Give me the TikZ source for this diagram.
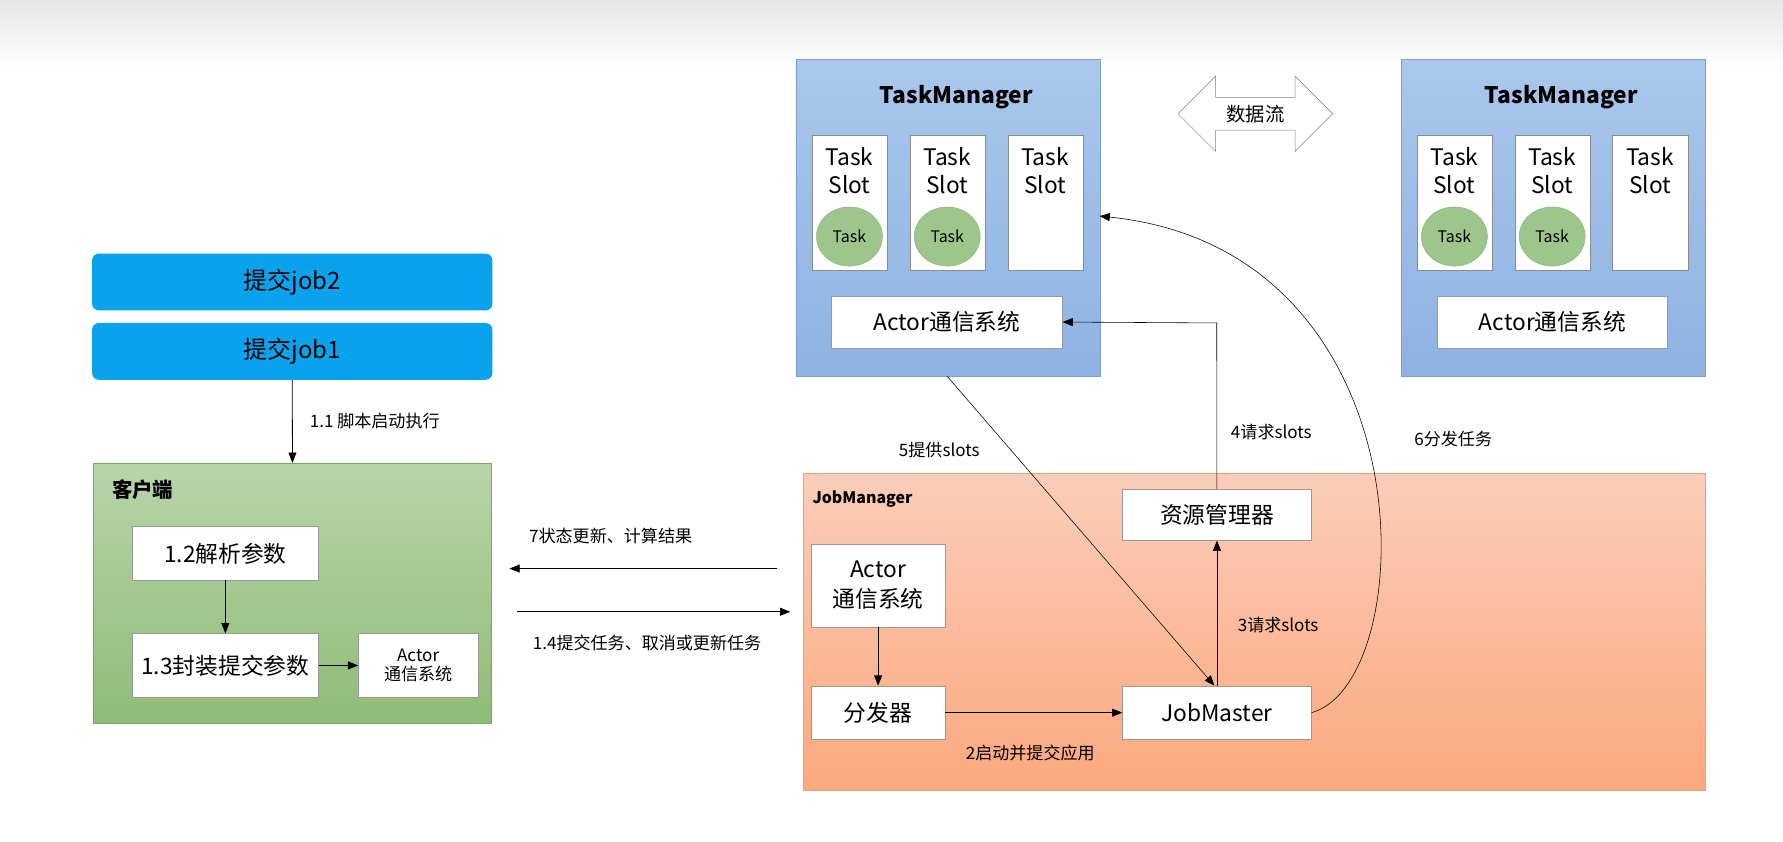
\documentclass[tikz,border=0pt]{standalone}
\usepackage{fontspec}
\setmainfont{Noto Sans CJK SC}
\usetikzlibrary{arrows.meta,shapes.arrows,shapes.geometric}
\definecolor{jobblue}{RGB}{10,162,236}
\tikzset{
  box/.style={draw=black!40,fill=white,inner sep=0pt,align=center,font=\fontsize{20}{24}\selectfont},
  lbl/.style={font=\fontsize{15}{18}\selectfont,inner sep=1pt},
  arr/.style={-{Triangle[length=9pt,width=7pt]},line width=0.7pt},
  slot/.style={draw=black!45,fill=white,minimum width=66pt,minimum height=118pt,anchor=north west,inner sep=0pt},
  task/.style={ellipse,draw=green!40!black!50,fill={rgb,255:red,158;green,198;blue,138},minimum width=58pt,minimum height=52pt,font=\fontsize{14}{16}\selectfont,inner sep=0pt},
}
\begin{document}
\begin{tikzpicture}[x=1pt,y=-1pt]
\useasboundingbox (0,0) rectangle (1568,740);
\fill[white] (0,0) rectangle (1568,740);
\shade[top color=black!10,bottom color=white] (0,0) rectangle (1568,60);
% job boxes
\node[fill=jobblue,rounded corners=6pt,minimum width=352pt,minimum height=50pt,inner sep=0pt,font=\fontsize{21}{24}\selectfont] (j2) at (257,248) {提交job2};
\node[fill=jobblue,rounded corners=6pt,minimum width=352pt,minimum height=50pt,inner sep=0pt,font=\fontsize{21}{24}\selectfont] (j1) at (257,309) {提交job1};
% client
\node[draw={rgb,255:red,120;green,170;blue,100},top color={rgb,255:red,184;green,212;blue,170},bottom color={rgb,255:red,143;green,188;blue,118},minimum width=350pt,minimum height=229pt,inner sep=0pt,anchor=north west] (cl) at (82,407) {};
\node[font=\bfseries\fontsize{18}{20}\selectfont,anchor=west] (clt) at (95,431) {客户端};
\node[box,minimum width=164pt,minimum height=47pt,anchor=north west] (p12) at (116,463) {1.2解析参数};
\node[box,minimum width=164pt,minimum height=56pt,anchor=north west] (p13) at (116,557) {1.3封装提交参数};
\node[box,minimum width=105pt,minimum height=56pt,anchor=north west,font=\fontsize{15}{17}\selectfont] (ca) at (315,557) {Actor\\通信系统};
\draw[arr] (j1.south) -- (cl.north) node[lbl,midway,right=14pt] {1.1 脚本启动执行};
\draw[arr] (p12) -- (p13);
\draw[arr] (p13) -- (ca);
% arrows between client and JM
\coordinate (a7s) at (683,500); \coordinate (a7e) at (448,500);
\draw[arr] (a7s) -- (a7e);
\node[lbl] (l7) at (537,471) {7状态更新、计算结果};
\coordinate (a14s) at (455,538); \coordinate (a14e) at (695,538);
\draw[arr] (a14s) -- (a14e);
\node[lbl] (l14) at (569,565) {1.4提交任务、取消或更新任务};
% JobManager
\node[draw={rgb,255:red,240;green,160;blue,120},top color={rgb,255:red,251;green,205;blue,185},bottom color={rgb,255:red,251;green,168;blue,125},minimum width=793pt,minimum height=279pt,inner sep=0pt,anchor=north west] (jm) at (706,416) {};
\node[font=\bfseries\fontsize{14}{16}\selectfont,anchor=west] (jmt) at (711,439) {JobManager};
\node[box,minimum width=118pt,minimum height=73pt,anchor=north west,font=\fontsize{20}{26}\selectfont] (ja) at (713,478) {Actor\\通信系统};
\node[box,minimum width=118pt,minimum height=47pt,anchor=north west] (fd) at (713,603) {分发器};
\node[box,minimum width=166pt,minimum height=47pt,anchor=north west] (jmr) at (987,603) {JobMaster};
\node[box,minimum width=166pt,minimum height=45pt,anchor=north west] (rm) at (987,430) {资源管理器};
% TaskManagers
\foreach \n/\x in {L/700,R/1232}{
  \node[draw={rgb,255:red,125;green,160;blue,210},top color={rgb,255:red,170;green,199;blue,235},bottom color={rgb,255:red,142;green,178;blue,226},minimum width=267pt,minimum height=279pt,inner sep=0pt,anchor=north west] (tm\n) at (\x,52) {};
  \node[font=\bfseries\fontsize{20}{22}\selectfont] (tmt\n) at (\x+141,85) {TaskManager};
  \foreach \i/\dx in {1/14,2/100,3/186}{
    \node[slot] (s\n\i) at (\x+\dx,119) {};
    \node[align=center,font=\fontsize{20}{25}\selectfont,inner sep=0pt] (st\n\i) at (\x+\dx+33,150) {Task\\Slot};
  }
  \node[task] (t\n1) at (\x+47,208) {Task};
  \node[task] (t\n2) at (\x+133,208) {Task};
}
\node[box,minimum width=203pt,minimum height=46pt,anchor=north west] (taL) at (731,260) {Actor通信系统};
\node[box,minimum width=202pt,minimum height=46pt,anchor=north west] (taR) at (1264,260) {Actor通信系统};
% data flow
\node[double arrow,draw=black!50,fill=white,minimum width=66pt,minimum height=136pt,double arrow head extend=13pt,inner sep=2pt,font=\fontsize{17}{20}\selectfont] (df) at (1104,100) {数据流};
% connectors
\coordinate (c5) at (833,331);
\draw[arr,line width=0.5pt] (c5) -- (jmr.north -| 1068,0);
\node[lbl] (l5) at (826,396) {5提供slots};
\coordinate (c4) at (1070,284);
\draw[arr,line width=0.5pt] (rm.north) -- (c4) -- (taL.east);
\node[lbl] (l4) at (1118,380) {4请求slots};
\draw[arr,line width=0.5pt] (jmr.north) -- (rm.south);
\node[lbl] (l3) at (1124,550) {3请求slots};
\draw[arr,line width=0.5pt] (fd.east) -- (jmr.west);
\node[lbl] (l2) at (906,662) {2启动并提交应用};
\coordinate (c6) at (967,190);
\draw[arr,line width=0.5pt] (jmr.east) .. controls (1250,600) and (1260,220) .. (c6);
\node[lbl] (l6) at (1278,386) {6分发任务};
\draw[arr] (ja.south) -- (fd.north);
\end{tikzpicture}
\end{document}
